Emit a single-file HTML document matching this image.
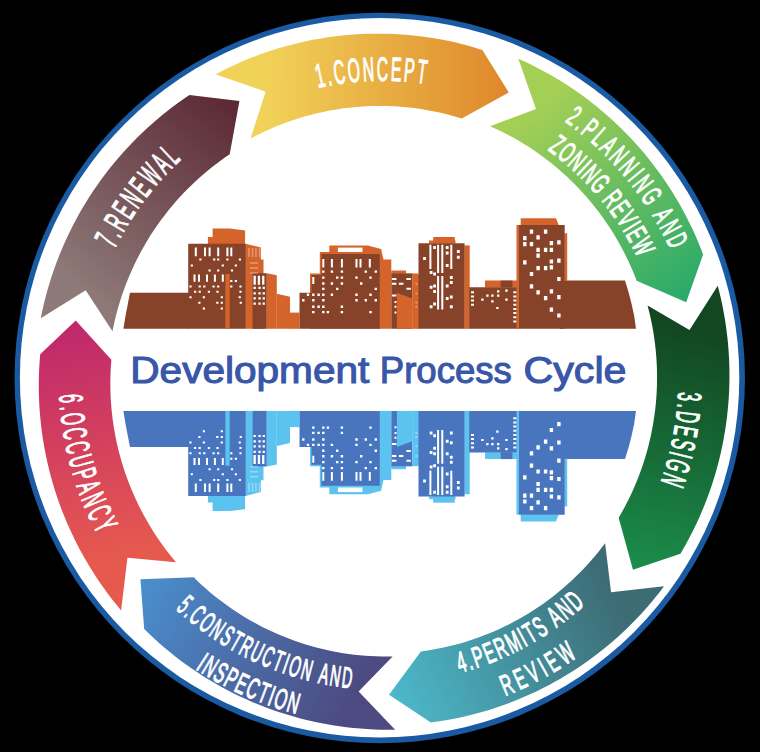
<!DOCTYPE html>
<html><head><meta charset="utf-8"><style>
html,body{margin:0;padding:0;background:#000;width:760px;height:752px;overflow:hidden}
svg{display:block}
.lab text{font-family:"Liberation Sans",sans-serif;fill:#fff;stroke:#fff;stroke-width:0.9px;vector-effect:non-scaling-stroke}
.title{font-family:"Liberation Sans",sans-serif;font-weight:normal;fill:#3857a8;stroke:#3857a8;stroke-width:1.1px}
</style></head><body>
<svg width="760" height="752" viewBox="0 0 760 752">
<defs>
<linearGradient id="g1" gradientUnits="userSpaceOnUse" x1="265.64" y1="92.92" x2="508.81" y2="93.90"><stop offset="0" stop-color="#f1d259"/><stop offset="1" stop-color="#df872b"/></linearGradient>
<linearGradient id="g2" gradientUnits="userSpaceOnUse" x1="535.95" y1="110.17" x2="686.17" y2="302.66"><stop offset="0" stop-color="#a4cf55"/><stop offset="1" stop-color="#27a96b"/></linearGradient>
<linearGradient id="g3" gradientUnits="userSpaceOnUse" x1="689.52" y1="330.31" x2="632.97" y2="568.87"><stop offset="0" stop-color="#124722"/><stop offset="1" stop-color="#1b8d4b"/></linearGradient>
<linearGradient id="g4" gradientUnits="userSpaceOnUse" x1="611.04" y1="591.38" x2="389.01" y2="693.44"><stop offset="0" stop-color="#3d6c75"/><stop offset="1" stop-color="#4cb9cb"/></linearGradient>
<linearGradient id="g5" gradientUnits="userSpaceOnUse" x1="358.63" y1="690.14" x2="140.44" y2="578.33"><stop offset="0" stop-color="#4c4a80"/><stop offset="1" stop-color="#4a8fce"/></linearGradient>
<linearGradient id="g6" gradientUnits="userSpaceOnUse" x1="127.46" y1="557.05" x2="75.75" y2="320.78"><stop offset="0" stop-color="#e65a4e"/><stop offset="1" stop-color="#bf276d"/></linearGradient>
<linearGradient id="g7" gradientUnits="userSpaceOnUse" x1="85.66" y1="290.73" x2="239.44" y2="102.36"><stop offset="0" stop-color="#8d7977"/><stop offset="1" stop-color="#5b2733"/></linearGradient>
</defs>
<rect width="760" height="752" fill="#000"/>
<circle cx="379.75" cy="378" r="365.2" fill="#1a5aa3"/>
<circle cx="379.6" cy="377.8" r="359.7" fill="#fff"/>
<g>
<polygon points="130.0,292.7 189.0,292.7 189.0,328.8 123.4,328.8 125.5,316.0 127.8,304.0" fill="#86432a"/>
<polygon points="207.9,244.0 207.9,237.1 212.6,237.1 212.6,228.6 230.0,228.6 245.1,230.5 245.1,244.0" fill="#d4642a"/>
<polygon points="245.5,243.7 260.9,247.6 260.9,259.5 263.5,259.5 263.5,328.8 245.5,328.8" fill="#d4642a"/>
<polygon points="188.2,243.7 245.8,243.7 245.8,328.8 188.2,328.8" fill="#86432a"/>
<polygon points="225.4,274.0 229.7,274.0 229.7,328.8 225.4,328.8" fill="#d4642a"/>
<polygon points="252.6,273.2 266.8,273.2 266.8,328.8 252.6,328.8" fill="#86432a"/>
<polygon points="266.8,273.2 276.8,275.3 276.8,328.8 266.8,328.8" fill="#d4642a"/>
<polygon points="276.8,293.7 290.0,296.8 290.0,328.8 276.8,328.8" fill="#d4642a"/>
<polygon points="290.0,312.6 299.5,312.6 299.5,328.8 290.0,328.8" fill="#d4642a"/>
<polygon points="329.3,254.0 329.3,245.4 367.8,245.4 381.1,249.0 381.1,254.0" fill="#d4642a"/>
<polygon points="337.9,247.6 362.5,247.6 362.5,253.0 337.9,253.0" fill="#fff"/>
<polygon points="379.5,254.0 381.1,249.0 383.5,259.6 391.3,259.6 391.3,328.8 379.5,328.8" fill="#d4642a"/>
<polygon points="310.0,328.8 310.0,273.4 319.8,273.4 319.8,252.1 379.8,252.1 379.8,328.8" fill="#d4642a"/>
<polygon points="299.5,328.8 299.5,292.8 311.5,292.8 311.5,275.0 321.5,275.0 321.5,254.0 379.8,254.0 379.8,328.8" fill="#86432a"/>
<polygon points="391.3,270.5 406.0,270.5 406.0,274.7 391.3,274.7" fill="#d4642a"/>
<polygon points="406.0,273.5 418.5,273.5 418.5,276.0 406.0,276.0" fill="#d4642a"/>
<polygon points="391.3,273.5 412.2,273.5 412.2,328.8 391.3,328.8" fill="#86432a"/>
<polygon points="412.2,275.0 419.2,275.0 419.2,328.8 412.2,328.8" fill="#d4642a"/>
<polygon points="396.9,328.8 396.9,292.8 412.2,298.4 412.2,328.8" fill="#d4642a"/>
<polygon points="433.2,237.0 454.8,237.0 454.8,243.5 433.2,243.5" fill="#d4642a"/>
<polygon points="429.0,240.5 455.5,240.5 455.5,243.5 429.0,243.5" fill="#d4642a"/>
<polygon points="464.4,245.4 469.7,245.4 469.7,328.8 464.4,328.8" fill="#d4642a"/>
<polygon points="418.5,243.3 464.6,243.3 464.6,328.8 418.5,328.8" fill="#86432a"/>
<polygon points="485.0,280.6 518.2,280.6 518.2,287.5 485.0,287.5" fill="#d4642a"/>
<polygon points="500.7,280.6 512.4,280.6 512.4,287.5 500.7,287.5" fill="#86432a"/>
<polygon points="469.2,287.3 518.2,287.3 518.2,328.8 469.2,328.8" fill="#86432a"/>
<polygon points="560.0,280.6 625.0,280.6 628.5,292.0 631.6,304.0 634.2,316.0 636.0,328.8 560.0,328.8" fill="#86432a"/>
<polygon points="520.7,225.5 520.7,218.3 556.0,218.3 558.9,225.5" fill="#d4642a"/>
<polygon points="516.5,225.0 519.2,225.0 519.2,328.8 516.5,328.8" fill="#d4642a"/>
<polygon points="564.3,233.3 567.2,233.3 567.2,281.0 564.3,281.0" fill="#d4642a"/>
<polygon points="519.0,225.0 564.7,225.0 564.7,328.8 519.0,328.8" fill="#86432a"/>
<path d="M194.8,247.6h2.0v8.6h-2.0zM204.0,247.6h2.0v8.6h-2.0zM208.6,247.6h2.0v8.6h-2.0zM217.2,247.6h2.0v8.6h-2.0zM226.4,247.6h2.0v8.6h-2.0zM230.3,247.6h2.0v8.6h-2.0zM199.3,258.6h2.2v2.0h-2.2zM213.1,258.6h2.2v2.0h-2.2zM217.1,258.6h2.2v2.0h-2.2zM226.3,258.6h2.2v2.0h-2.2zM238.8,258.6h2.2v2.0h-2.2zM190.7,264.5h2.2v2.0h-2.2zM221.7,264.5h2.2v2.0h-2.2zM234.8,264.5h2.2v2.0h-2.2zM208.5,269.5h2.2v2.0h-2.2zM217.1,269.5h2.2v2.0h-2.2zM230.9,269.5h2.2v2.0h-2.2zM193.5,274.6h2.0v7.2h-2.0zM198.0,274.6h2.0v7.2h-2.0zM206.0,274.6h2.0v7.2h-2.0zM213.9,274.6h2.0v7.2h-2.0zM221.8,274.6h2.0v7.2h-2.0zM230.2,280.0h2.2v2.0h-2.2zM234.8,280.0h2.2v2.0h-2.2zM189.4,285.4h2.2v2.0h-2.2zM198.6,285.4h2.2v2.0h-2.2zM203.2,285.4h2.2v2.0h-2.2zM212.5,285.4h2.2v2.0h-2.2zM217.1,285.4h2.2v2.0h-2.2zM230.2,285.4h2.2v2.0h-2.2zM239.4,285.4h2.2v2.0h-2.2zM194.0,290.7h2.2v2.0h-2.2zM198.6,290.7h2.2v2.0h-2.2zM207.8,290.7h2.2v2.0h-2.2zM216.4,290.7h2.2v2.0h-2.2zM239.4,290.7h2.2v2.0h-2.2zM189.4,296.2h2.2v2.0h-2.2zM202.8,296.2h2.2v2.0h-2.2zM220.7,296.2h2.2v2.0h-2.2zM238.6,296.2h2.2v2.0h-2.2zM198.3,301.8h2.2v2.0h-2.2zM216.2,301.8h2.2v2.0h-2.2zM220.7,301.8h2.2v2.0h-2.2zM239.7,301.8h2.2v2.0h-2.2zM202.8,307.4h2.2v2.0h-2.2zM220.7,307.4h2.2v2.0h-2.2zM253.5,275.8h2.3v8.9h-2.3zM257.8,275.8h2.3v8.9h-2.3zM262.1,275.8h2.3v8.9h-2.3zM253.5,286.8h2.3v2.2h-2.3zM258.4,286.8h2.3v2.2h-2.3zM262.6,286.8h2.3v2.2h-2.3zM253.5,292.3h2.3v2.2h-2.3zM258.4,292.3h2.3v2.2h-2.3zM262.6,292.3h2.3v2.2h-2.3zM253.5,297.3h2.3v2.2h-2.3zM258.4,297.3h2.3v2.2h-2.3zM262.6,297.3h2.3v2.2h-2.3zM253.5,302.6h2.3v2.2h-2.3zM258.4,302.6h2.3v2.2h-2.3zM262.6,302.6h2.3v2.2h-2.3zM322.3,259.0h2.0v8.6h-2.0zM330.9,259.0h2.0v8.6h-2.0zM340.9,259.0h2.0v8.6h-2.0zM355.5,259.0h2.0v8.6h-2.0zM359.5,259.0h2.0v8.6h-2.0zM368.8,259.0h2.0v8.6h-2.0zM322.1,270.4h2.4v2.4h-2.4zM330.7,270.4h2.4v2.4h-2.4zM340.7,270.4h2.4v2.4h-2.4zM364.6,270.4h2.4v2.4h-2.4zM374.6,270.4h2.4v2.4h-2.4zM322.1,276.4h2.4v2.4h-2.4zM336.0,276.4h2.4v2.4h-2.4zM340.7,276.4h2.4v2.4h-2.4zM355.3,276.4h2.4v2.4h-2.4zM369.3,276.4h2.4v2.4h-2.4zM322.1,282.3h2.4v2.4h-2.4zM330.7,282.3h2.4v2.4h-2.4zM340.7,282.3h2.4v2.4h-2.4zM360.0,282.3h2.4v2.4h-2.4zM322.1,287.7h2.4v2.4h-2.4zM336.0,287.7h2.4v2.4h-2.4zM374.6,287.7h2.4v2.4h-2.4zM306.8,293.6h2.4v2.4h-2.4zM312.1,293.6h2.4v2.4h-2.4zM317.4,293.6h2.4v2.4h-2.4zM322.1,293.6h2.4v2.4h-2.4zM330.7,293.6h2.4v2.4h-2.4zM355.3,293.6h2.4v2.4h-2.4zM369.3,293.6h2.4v2.4h-2.4zM302.1,299.0h2.4v2.4h-2.4zM312.1,299.0h2.4v2.4h-2.4zM322.1,299.0h2.4v2.4h-2.4zM355.3,299.0h2.4v2.4h-2.4zM364.6,299.0h2.4v2.4h-2.4zM374.6,299.0h2.4v2.4h-2.4zM312.1,305.6h2.4v2.4h-2.4zM317.4,305.6h2.4v2.4h-2.4zM322.1,305.6h2.4v2.4h-2.4zM340.7,305.6h2.4v2.4h-2.4zM312.1,310.9h2.4v2.4h-2.4zM322.1,310.9h2.4v2.4h-2.4zM326.7,310.9h2.4v2.4h-2.4zM340.7,310.9h2.4v2.4h-2.4zM369.3,310.9h2.4v2.4h-2.4zM312.3,277.0h2.0v7.0h-2.0zM391.9,277.9h4.5v2.0h-4.5zM406.4,277.9h4.5v2.0h-4.5zM391.9,282.8h4.5v2.0h-4.5zM398.9,282.8h4.5v2.0h-4.5zM406.4,287.7h4.5v2.0h-4.5zM391.9,294.6h4.5v2.0h-4.5zM394.5,300.9h2.0v2.0h-2.0zM394.5,305.8h2.0v2.0h-2.0zM394.5,311.4h2.0v2.0h-2.0zM429.4,244.7h2.0v24.4h-2.0zM437.1,244.7h2.0v28.3h-2.0zM441.3,244.7h2.0v28.3h-2.0zM450.3,244.7h2.0v24.3h-2.0zM437.1,276.0h2.0v33.6h-2.0zM441.3,276.0h2.0v33.6h-2.0zM423.1,257.1h2.8v3.0h-2.8zM456.9,250.1h2.8v3.0h-2.8zM456.9,255.7h2.8v3.0h-2.8zM433.2,246.0h2.8v3.0h-2.8zM445.8,246.0h2.8v3.0h-2.8zM445.8,251.5h2.8v3.0h-2.8zM445.8,264.1h2.8v3.0h-2.8zM429.7,271.1h2.8v3.0h-2.8zM433.2,272.5h2.8v3.0h-2.8zM449.9,276.0h2.8v3.0h-2.8zM449.9,280.9h2.8v3.0h-2.8zM429.7,285.8h2.8v3.0h-2.8zM433.2,284.4h2.8v3.0h-2.8zM445.8,284.4h2.8v3.0h-2.8zM433.2,290.0h2.8v3.0h-2.8zM445.8,296.9h2.8v3.0h-2.8zM449.9,295.5h2.8v3.0h-2.8zM433.2,302.5h2.8v3.0h-2.8zM429.7,305.3h2.8v3.0h-2.8zM449.9,305.3h2.8v3.0h-2.8zM471.0,291.3h3.0v2.0h-3.0zM471.0,295.4h3.0v2.0h-3.0zM471.0,299.6h3.0v2.0h-3.0zM471.0,303.7h3.0v2.0h-3.0zM513.3,291.3h3.0v2.0h-3.0zM513.3,295.4h3.0v2.0h-3.0zM513.3,299.6h3.0v2.0h-3.0zM513.3,303.8h3.0v2.0h-3.0zM513.3,307.9h3.0v2.0h-3.0zM513.3,312.1h3.0v2.0h-3.0zM513.3,316.2h3.0v2.0h-3.0zM513.3,320.4h3.0v2.0h-3.0zM497.0,290.3h2.4v2.2h-2.4zM497.0,294.5h2.4v2.2h-2.4zM505.3,289.5h2.4v2.2h-2.4zM505.3,298.6h2.4v2.2h-2.4zM486.2,294.5h2.4v2.2h-2.4zM491.2,294.5h2.4v2.2h-2.4zM481.2,298.6h2.4v2.2h-2.4zM491.2,300.3h2.4v2.2h-2.4zM496.2,306.9h2.4v2.2h-2.4zM529.8,229.5h3.4v4.2h-3.4zM543.9,229.5h3.4v4.2h-3.4zM523.1,236.1h3.4v4.2h-3.4zM536.4,235.3h3.4v4.2h-3.4zM523.1,242.0h3.4v4.2h-3.4zM529.8,242.0h3.4v4.2h-3.4zM549.7,241.1h3.4v4.2h-3.4zM557.2,240.3h3.4v4.2h-3.4zM536.4,247.8h3.4v4.2h-3.4zM543.9,247.8h3.4v4.2h-3.4zM549.7,247.8h3.4v4.2h-3.4zM536.4,253.6h3.4v4.2h-3.4zM523.1,260.2h3.4v4.2h-3.4zM549.7,259.4h3.4v4.2h-3.4zM557.2,258.6h3.4v4.2h-3.4zM536.4,266.1h3.4v4.2h-3.4zM543.9,266.1h3.4v4.2h-3.4zM549.7,265.2h3.4v4.2h-3.4zM529.8,271.9h3.4v4.2h-3.4zM557.2,276.9h3.4v4.2h-3.4zM529.8,284.3h3.4v4.2h-3.4zM536.4,290.2h3.4v4.2h-3.4zM549.7,289.3h3.4v4.2h-3.4zM543.9,296.0h3.4v4.2h-3.4zM557.2,295.1h3.4v4.2h-3.4zM549.7,307.6h3.4v4.2h-3.4zM557.2,313.4h3.4v4.2h-3.4z" fill="#fff"/>
<path d="M248.2,248.0h1.5v9.0h-1.5zM251.8,248.0h1.5v9.0h-1.5zM255.2,248.0h1.5v9.0h-1.5zM258.8,248.0h1.5v9.0h-1.5zM250.0,262.2h8.0v1.6h-8.0zM250.0,267.2h8.0v1.6h-8.0zM250.0,272.2h8.0v1.6h-8.0zM415.4,282.8h2.0v2.0h-2.0zM415.4,292.5h2.0v2.0h-2.0zM415.4,301.6h2.0v2.0h-2.0zM415.4,305.8h2.0v2.0h-2.0z" fill="#fff" opacity="0.35"/>
</g>
<g transform="translate(0,739.7) scale(1,-1)">
<polygon points="130.0,292.7 189.0,292.7 189.0,328.8 123.4,328.8 125.5,316.0 127.8,304.0" fill="#4875be"/>
<polygon points="207.9,244.0 207.9,237.1 212.6,237.1 212.6,228.6 230.0,228.6 245.1,230.5 245.1,244.0" fill="#5cc3f0"/>
<polygon points="245.5,243.7 260.9,247.6 260.9,259.5 263.5,259.5 263.5,328.8 245.5,328.8" fill="#5cc3f0"/>
<polygon points="188.2,243.7 245.8,243.7 245.8,328.8 188.2,328.8" fill="#4875be"/>
<polygon points="225.4,274.0 229.7,274.0 229.7,328.8 225.4,328.8" fill="#5cc3f0"/>
<polygon points="252.6,273.2 266.8,273.2 266.8,328.8 252.6,328.8" fill="#4875be"/>
<polygon points="266.8,273.2 276.8,275.3 276.8,328.8 266.8,328.8" fill="#5cc3f0"/>
<polygon points="276.8,293.7 290.0,296.8 290.0,328.8 276.8,328.8" fill="#5cc3f0"/>
<polygon points="290.0,312.6 299.5,312.6 299.5,328.8 290.0,328.8" fill="#5cc3f0"/>
<polygon points="329.3,254.0 329.3,245.4 367.8,245.4 381.1,249.0 381.1,254.0" fill="#5cc3f0"/>
<polygon points="337.9,247.6 362.5,247.6 362.5,253.0 337.9,253.0" fill="#fff"/>
<polygon points="379.5,254.0 381.1,249.0 383.5,259.6 391.3,259.6 391.3,328.8 379.5,328.8" fill="#5cc3f0"/>
<polygon points="310.0,328.8 310.0,273.4 319.8,273.4 319.8,252.1 379.8,252.1 379.8,328.8" fill="#5cc3f0"/>
<polygon points="299.5,328.8 299.5,292.8 311.5,292.8 311.5,275.0 321.5,275.0 321.5,254.0 379.8,254.0 379.8,328.8" fill="#4875be"/>
<polygon points="391.3,270.5 406.0,270.5 406.0,274.7 391.3,274.7" fill="#5cc3f0"/>
<polygon points="406.0,273.5 418.5,273.5 418.5,276.0 406.0,276.0" fill="#5cc3f0"/>
<polygon points="391.3,273.5 412.2,273.5 412.2,328.8 391.3,328.8" fill="#4875be"/>
<polygon points="412.2,275.0 419.2,275.0 419.2,328.8 412.2,328.8" fill="#5cc3f0"/>
<polygon points="396.9,328.8 396.9,292.8 412.2,298.4 412.2,328.8" fill="#5cc3f0"/>
<polygon points="433.2,237.0 454.8,237.0 454.8,243.5 433.2,243.5" fill="#5cc3f0"/>
<polygon points="429.0,240.5 455.5,240.5 455.5,243.5 429.0,243.5" fill="#5cc3f0"/>
<polygon points="464.4,245.4 469.7,245.4 469.7,328.8 464.4,328.8" fill="#5cc3f0"/>
<polygon points="418.5,243.3 464.6,243.3 464.6,328.8 418.5,328.8" fill="#4875be"/>
<polygon points="485.0,280.6 518.2,280.6 518.2,287.5 485.0,287.5" fill="#5cc3f0"/>
<polygon points="500.7,280.6 512.4,280.6 512.4,287.5 500.7,287.5" fill="#4875be"/>
<polygon points="469.2,287.3 518.2,287.3 518.2,328.8 469.2,328.8" fill="#4875be"/>
<polygon points="560.0,280.6 625.0,280.6 628.5,292.0 631.6,304.0 634.2,316.0 636.0,328.8 560.0,328.8" fill="#4875be"/>
<polygon points="520.7,225.5 520.7,218.3 556.0,218.3 558.9,225.5" fill="#5cc3f0"/>
<polygon points="516.5,225.0 519.2,225.0 519.2,328.8 516.5,328.8" fill="#5cc3f0"/>
<polygon points="564.3,233.3 567.2,233.3 567.2,281.0 564.3,281.0" fill="#5cc3f0"/>
<polygon points="519.0,225.0 564.7,225.0 564.7,328.8 519.0,328.8" fill="#4875be"/>
<path d="M194.8,247.6h2.0v8.6h-2.0zM204.0,247.6h2.0v8.6h-2.0zM208.6,247.6h2.0v8.6h-2.0zM217.2,247.6h2.0v8.6h-2.0zM226.4,247.6h2.0v8.6h-2.0zM230.3,247.6h2.0v8.6h-2.0zM199.3,258.6h2.2v2.0h-2.2zM213.1,258.6h2.2v2.0h-2.2zM217.1,258.6h2.2v2.0h-2.2zM226.3,258.6h2.2v2.0h-2.2zM238.8,258.6h2.2v2.0h-2.2zM190.7,264.5h2.2v2.0h-2.2zM221.7,264.5h2.2v2.0h-2.2zM234.8,264.5h2.2v2.0h-2.2zM208.5,269.5h2.2v2.0h-2.2zM217.1,269.5h2.2v2.0h-2.2zM230.9,269.5h2.2v2.0h-2.2zM193.5,274.6h2.0v7.2h-2.0zM198.0,274.6h2.0v7.2h-2.0zM206.0,274.6h2.0v7.2h-2.0zM213.9,274.6h2.0v7.2h-2.0zM221.8,274.6h2.0v7.2h-2.0zM230.2,280.0h2.2v2.0h-2.2zM234.8,280.0h2.2v2.0h-2.2zM189.4,285.4h2.2v2.0h-2.2zM198.6,285.4h2.2v2.0h-2.2zM203.2,285.4h2.2v2.0h-2.2zM212.5,285.4h2.2v2.0h-2.2zM217.1,285.4h2.2v2.0h-2.2zM230.2,285.4h2.2v2.0h-2.2zM239.4,285.4h2.2v2.0h-2.2zM194.0,290.7h2.2v2.0h-2.2zM198.6,290.7h2.2v2.0h-2.2zM207.8,290.7h2.2v2.0h-2.2zM216.4,290.7h2.2v2.0h-2.2zM239.4,290.7h2.2v2.0h-2.2zM189.4,296.2h2.2v2.0h-2.2zM202.8,296.2h2.2v2.0h-2.2zM220.7,296.2h2.2v2.0h-2.2zM238.6,296.2h2.2v2.0h-2.2zM198.3,301.8h2.2v2.0h-2.2zM216.2,301.8h2.2v2.0h-2.2zM220.7,301.8h2.2v2.0h-2.2zM239.7,301.8h2.2v2.0h-2.2zM202.8,307.4h2.2v2.0h-2.2zM220.7,307.4h2.2v2.0h-2.2zM253.5,275.8h2.3v8.9h-2.3zM257.8,275.8h2.3v8.9h-2.3zM262.1,275.8h2.3v8.9h-2.3zM253.5,286.8h2.3v2.2h-2.3zM258.4,286.8h2.3v2.2h-2.3zM262.6,286.8h2.3v2.2h-2.3zM253.5,292.3h2.3v2.2h-2.3zM258.4,292.3h2.3v2.2h-2.3zM262.6,292.3h2.3v2.2h-2.3zM253.5,297.3h2.3v2.2h-2.3zM258.4,297.3h2.3v2.2h-2.3zM262.6,297.3h2.3v2.2h-2.3zM253.5,302.6h2.3v2.2h-2.3zM258.4,302.6h2.3v2.2h-2.3zM262.6,302.6h2.3v2.2h-2.3zM322.3,259.0h2.0v8.6h-2.0zM330.9,259.0h2.0v8.6h-2.0zM340.9,259.0h2.0v8.6h-2.0zM355.5,259.0h2.0v8.6h-2.0zM359.5,259.0h2.0v8.6h-2.0zM368.8,259.0h2.0v8.6h-2.0zM322.1,270.4h2.4v2.4h-2.4zM330.7,270.4h2.4v2.4h-2.4zM340.7,270.4h2.4v2.4h-2.4zM364.6,270.4h2.4v2.4h-2.4zM374.6,270.4h2.4v2.4h-2.4zM322.1,276.4h2.4v2.4h-2.4zM336.0,276.4h2.4v2.4h-2.4zM340.7,276.4h2.4v2.4h-2.4zM355.3,276.4h2.4v2.4h-2.4zM369.3,276.4h2.4v2.4h-2.4zM322.1,282.3h2.4v2.4h-2.4zM330.7,282.3h2.4v2.4h-2.4zM340.7,282.3h2.4v2.4h-2.4zM360.0,282.3h2.4v2.4h-2.4zM322.1,287.7h2.4v2.4h-2.4zM336.0,287.7h2.4v2.4h-2.4zM374.6,287.7h2.4v2.4h-2.4zM306.8,293.6h2.4v2.4h-2.4zM312.1,293.6h2.4v2.4h-2.4zM317.4,293.6h2.4v2.4h-2.4zM322.1,293.6h2.4v2.4h-2.4zM330.7,293.6h2.4v2.4h-2.4zM355.3,293.6h2.4v2.4h-2.4zM369.3,293.6h2.4v2.4h-2.4zM302.1,299.0h2.4v2.4h-2.4zM312.1,299.0h2.4v2.4h-2.4zM322.1,299.0h2.4v2.4h-2.4zM355.3,299.0h2.4v2.4h-2.4zM364.6,299.0h2.4v2.4h-2.4zM374.6,299.0h2.4v2.4h-2.4zM312.1,305.6h2.4v2.4h-2.4zM317.4,305.6h2.4v2.4h-2.4zM322.1,305.6h2.4v2.4h-2.4zM340.7,305.6h2.4v2.4h-2.4zM312.1,310.9h2.4v2.4h-2.4zM322.1,310.9h2.4v2.4h-2.4zM326.7,310.9h2.4v2.4h-2.4zM340.7,310.9h2.4v2.4h-2.4zM369.3,310.9h2.4v2.4h-2.4zM312.3,277.0h2.0v7.0h-2.0zM391.9,277.9h4.5v2.0h-4.5zM406.4,277.9h4.5v2.0h-4.5zM391.9,282.8h4.5v2.0h-4.5zM398.9,282.8h4.5v2.0h-4.5zM406.4,287.7h4.5v2.0h-4.5zM391.9,294.6h4.5v2.0h-4.5zM394.5,300.9h2.0v2.0h-2.0zM394.5,305.8h2.0v2.0h-2.0zM394.5,311.4h2.0v2.0h-2.0zM429.4,244.7h2.0v24.4h-2.0zM437.1,244.7h2.0v28.3h-2.0zM441.3,244.7h2.0v28.3h-2.0zM450.3,244.7h2.0v24.3h-2.0zM437.1,276.0h2.0v33.6h-2.0zM441.3,276.0h2.0v33.6h-2.0zM423.1,257.1h2.8v3.0h-2.8zM456.9,250.1h2.8v3.0h-2.8zM456.9,255.7h2.8v3.0h-2.8zM433.2,246.0h2.8v3.0h-2.8zM445.8,246.0h2.8v3.0h-2.8zM445.8,251.5h2.8v3.0h-2.8zM445.8,264.1h2.8v3.0h-2.8zM429.7,271.1h2.8v3.0h-2.8zM433.2,272.5h2.8v3.0h-2.8zM449.9,276.0h2.8v3.0h-2.8zM449.9,280.9h2.8v3.0h-2.8zM429.7,285.8h2.8v3.0h-2.8zM433.2,284.4h2.8v3.0h-2.8zM445.8,284.4h2.8v3.0h-2.8zM433.2,290.0h2.8v3.0h-2.8zM445.8,296.9h2.8v3.0h-2.8zM449.9,295.5h2.8v3.0h-2.8zM433.2,302.5h2.8v3.0h-2.8zM429.7,305.3h2.8v3.0h-2.8zM449.9,305.3h2.8v3.0h-2.8zM471.0,291.3h3.0v2.0h-3.0zM471.0,295.4h3.0v2.0h-3.0zM471.0,299.6h3.0v2.0h-3.0zM471.0,303.7h3.0v2.0h-3.0zM513.3,291.3h3.0v2.0h-3.0zM513.3,295.4h3.0v2.0h-3.0zM513.3,299.6h3.0v2.0h-3.0zM513.3,303.8h3.0v2.0h-3.0zM513.3,307.9h3.0v2.0h-3.0zM513.3,312.1h3.0v2.0h-3.0zM513.3,316.2h3.0v2.0h-3.0zM513.3,320.4h3.0v2.0h-3.0zM497.0,290.3h2.4v2.2h-2.4zM497.0,294.5h2.4v2.2h-2.4zM505.3,289.5h2.4v2.2h-2.4zM505.3,298.6h2.4v2.2h-2.4zM486.2,294.5h2.4v2.2h-2.4zM491.2,294.5h2.4v2.2h-2.4zM481.2,298.6h2.4v2.2h-2.4zM491.2,300.3h2.4v2.2h-2.4zM496.2,306.9h2.4v2.2h-2.4zM529.8,229.5h3.4v4.2h-3.4zM543.9,229.5h3.4v4.2h-3.4zM523.1,236.1h3.4v4.2h-3.4zM536.4,235.3h3.4v4.2h-3.4zM523.1,242.0h3.4v4.2h-3.4zM529.8,242.0h3.4v4.2h-3.4zM549.7,241.1h3.4v4.2h-3.4zM557.2,240.3h3.4v4.2h-3.4zM536.4,247.8h3.4v4.2h-3.4zM543.9,247.8h3.4v4.2h-3.4zM549.7,247.8h3.4v4.2h-3.4zM536.4,253.6h3.4v4.2h-3.4zM523.1,260.2h3.4v4.2h-3.4zM549.7,259.4h3.4v4.2h-3.4zM557.2,258.6h3.4v4.2h-3.4zM536.4,266.1h3.4v4.2h-3.4zM543.9,266.1h3.4v4.2h-3.4zM549.7,265.2h3.4v4.2h-3.4zM529.8,271.9h3.4v4.2h-3.4zM557.2,276.9h3.4v4.2h-3.4zM529.8,284.3h3.4v4.2h-3.4zM536.4,290.2h3.4v4.2h-3.4zM549.7,289.3h3.4v4.2h-3.4zM543.9,296.0h3.4v4.2h-3.4zM557.2,295.1h3.4v4.2h-3.4zM549.7,307.6h3.4v4.2h-3.4zM557.2,313.4h3.4v4.2h-3.4z" fill="#fff"/>
<path d="M248.2,248.0h1.5v9.0h-1.5zM251.8,248.0h1.5v9.0h-1.5zM255.2,248.0h1.5v9.0h-1.5zM258.8,248.0h1.5v9.0h-1.5zM250.0,262.2h8.0v1.6h-8.0zM250.0,267.2h8.0v1.6h-8.0zM250.0,272.2h8.0v1.6h-8.0zM415.4,282.8h2.0v2.0h-2.0zM415.4,292.5h2.0v2.0h-2.0zM415.4,301.6h2.0v2.0h-2.0zM415.4,305.8h2.0v2.0h-2.0z" fill="#fff" opacity="0.35"/>
</g>
<text class="title" x="130.3" y="383.3" font-size="37" textLength="239" lengthAdjust="spacingAndGlyphs">Development</text>
<text class="title" x="379.8" y="383.3" font-size="37" textLength="132" lengthAdjust="spacingAndGlyphs">Process</text>
<text class="title" x="523.5" y="383.3" font-size="37" textLength="103" lengthAdjust="spacingAndGlyphs">Cycle</text>
<g transform="translate(383,380.5) scale(1,1.0045) translate(-383,-380.5)">
<path d="M215.45,75.72 L221.59,72.54 L227.79,69.47 L234.05,66.54 L240.37,63.73 L246.74,61.05 L253.16,58.49 L259.63,56.07 L266.14,53.77 L272.70,51.60 L279.29,49.57 L285.93,47.67 L292.59,45.90 L299.29,44.26 L306.02,42.76 L312.77,41.40 L319.55,40.16 L326.35,39.07 L333.17,38.11 L340.01,37.28 L346.85,36.59 L353.71,36.04 L360.58,35.63 L367.45,35.35 L374.32,35.21 L381.19,35.20 L388.06,35.34 L394.92,35.61 L401.78,36.01 L408.62,36.55 L415.45,37.23 L422.26,38.04 L429.05,38.99 L435.82,40.07 L442.57,41.29 L449.29,42.64 L455.97,44.12 L462.63,45.74 L469.25,47.49 L475.83,49.37 L482.37,51.37 L508.81,93.90 L461.73,119.73 L456.55,118.15 L451.33,116.68 L446.08,115.31 L440.80,114.05 L435.50,112.89 L430.18,111.84 L424.83,110.89 L419.47,110.05 L414.09,109.31 L408.69,108.69 L403.29,108.17 L397.87,107.75 L392.44,107.45 L387.01,107.25 L381.57,107.17 L376.13,107.19 L370.69,107.31 L365.25,107.55 L359.82,107.90 L354.40,108.35 L348.98,108.91 L343.57,109.58 L338.18,110.36 L332.80,111.24 L327.44,112.23 L322.10,113.33 L316.79,114.53 L311.49,115.84 L306.22,117.26 L300.98,118.78 L295.77,120.40 L290.59,122.13 L285.45,123.96 L280.34,125.89 L275.27,127.93 L270.24,130.06 L265.25,132.30 L260.31,134.64 L255.41,137.07 L250.57,139.60 L265.64,92.92 Z" fill="url(#g1)"/>
<path d="M518.34,60.11 L524.66,62.97 L530.92,65.94 L537.12,69.04 L543.25,72.27 L549.32,75.61 L555.31,79.08 L561.24,82.66 L567.09,86.36 L572.86,90.17 L578.56,94.09 L584.17,98.13 L589.70,102.28 L595.15,106.54 L600.50,110.90 L605.77,115.36 L610.95,119.93 L616.03,124.61 L621.02,129.38 L625.91,134.24 L630.70,139.20 L635.39,144.26 L639.97,149.41 L644.45,154.64 L648.83,159.96 L653.09,165.37 L657.25,170.86 L661.30,176.43 L665.23,182.07 L669.04,187.80 L672.75,193.59 L676.33,199.46 L679.80,205.40 L683.14,211.40 L686.36,217.46 L689.47,223.59 L692.44,229.77 L695.30,236.02 L698.02,242.31 L700.62,248.66 L703.10,255.06 L686.17,302.66 L636.62,281.11 L634.65,276.05 L632.57,271.02 L630.39,266.04 L628.12,261.11 L625.75,256.21 L623.27,251.37 L620.71,246.57 L618.04,241.83 L615.28,237.14 L612.43,232.50 L609.49,227.92 L606.45,223.40 L603.32,218.94 L600.11,214.54 L596.80,210.20 L593.41,205.93 L589.94,201.73 L586.38,197.60 L582.74,193.54 L579.02,189.55 L575.21,185.63 L571.33,181.80 L567.38,178.03 L563.34,174.35 L559.24,170.75 L555.06,167.23 L550.81,163.79 L546.49,160.44 L542.11,157.17 L537.66,153.99 L533.15,150.90 L528.57,147.90 L523.94,144.99 L519.24,142.17 L514.50,139.45 L509.69,136.82 L504.84,134.28 L499.93,131.85 L494.97,129.51 L489.97,127.27 L535.95,110.17 Z" fill="url(#g2)"/>
<path d="M717.74,286.09 L719.47,292.83 L721.06,299.61 L722.51,306.41 L723.82,313.23 L725.00,320.08 L726.05,326.95 L726.95,333.84 L727.71,340.74 L728.34,347.65 L728.83,354.57 L729.18,361.50 L729.39,368.43 L729.46,375.37 L729.40,382.30 L729.19,389.23 L728.85,396.14 L728.36,403.05 L727.74,409.95 L726.99,416.83 L726.09,423.69 L725.06,430.53 L723.89,437.35 L722.59,444.14 L721.15,450.90 L719.58,457.62 L717.87,464.32 L716.03,470.97 L714.06,477.59 L711.95,484.16 L709.72,490.69 L707.35,497.17 L704.86,503.60 L702.24,509.98 L699.50,516.30 L696.63,522.56 L693.63,528.76 L690.51,534.90 L687.27,540.98 L683.92,546.98 L680.44,552.92 L632.97,568.87 L618.67,517.11 L621.41,512.40 L624.05,507.63 L626.60,502.81 L629.06,497.94 L631.42,493.02 L633.67,488.06 L635.83,483.04 L637.89,477.99 L639.85,472.89 L641.71,467.75 L643.46,462.58 L645.11,457.37 L646.66,452.13 L648.10,446.85 L649.43,441.55 L650.66,436.22 L651.78,430.87 L652.80,425.49 L653.71,420.09 L654.51,414.68 L655.20,409.25 L655.78,403.80 L656.26,398.34 L656.62,392.88 L656.88,387.40 L657.02,381.92 L657.06,376.44 L656.98,370.96 L656.80,365.47 L656.51,359.99 L656.10,354.52 L655.59,349.06 L654.97,343.60 L654.24,338.16 L653.40,332.73 L652.45,327.32 L651.40,321.93 L650.23,316.55 L648.96,311.20 L647.58,305.88 L689.52,330.31 Z" fill="url(#g3)"/>
<path d="M664.02,585.42 L659.78,590.95 L655.43,596.39 L650.98,601.74 L646.42,606.99 L641.75,612.16 L636.99,617.22 L632.12,622.19 L627.16,627.06 L622.11,631.83 L616.96,636.49 L611.72,641.05 L606.39,645.50 L600.98,649.85 L595.48,654.08 L589.90,658.20 L584.24,662.21 L578.50,666.10 L572.68,669.87 L566.80,673.53 L560.84,677.06 L554.82,680.48 L548.73,683.77 L542.57,686.94 L536.36,689.99 L530.09,692.90 L523.76,695.70 L517.38,698.36 L510.95,700.89 L504.48,703.30 L497.95,705.57 L491.39,707.71 L484.79,709.72 L478.14,711.60 L471.47,713.34 L464.76,714.95 L458.03,716.42 L451.26,717.76 L444.48,718.96 L437.67,720.03 L430.85,720.95 L389.01,693.44 L420.91,650.25 L426.32,649.50 L431.70,648.64 L437.08,647.67 L442.43,646.59 L447.76,645.41 L453.07,644.12 L458.35,642.73 L463.61,641.22 L468.83,639.62 L474.03,637.90 L479.18,636.09 L484.31,634.17 L489.39,632.15 L494.43,630.02 L499.44,627.80 L504.39,625.47 L509.30,623.05 L514.16,620.52 L518.98,617.90 L523.74,615.19 L528.44,612.37 L533.09,609.47 L537.68,606.47 L542.21,603.38 L546.68,600.19 L551.08,596.92 L555.42,593.56 L559.70,590.11 L563.90,586.58 L568.03,582.96 L572.09,579.26 L576.08,575.48 L579.99,571.61 L583.82,567.67 L587.58,563.66 L591.25,559.56 L594.85,555.40 L598.35,551.16 L601.78,546.85 L605.12,542.47 L611.04,591.38 Z" fill="url(#g4)"/>
<path d="M395.14,728.09 L388.16,728.16 L381.18,728.10 L374.21,727.89 L367.24,727.54 L360.29,727.06 L353.34,726.43 L346.42,725.67 L339.51,724.76 L332.62,723.72 L325.76,722.54 L318.93,721.23 L312.12,719.78 L305.35,718.19 L298.61,716.46 L291.91,714.61 L285.25,712.61 L278.64,710.49 L272.07,708.23 L265.55,705.85 L259.08,703.33 L252.66,700.69 L246.30,697.92 L240.00,695.02 L233.76,691.99 L227.58,688.85 L221.47,685.58 L215.43,682.19 L209.46,678.67 L203.56,675.05 L197.74,671.30 L192.00,667.44 L186.33,663.47 L180.75,659.38 L175.26,655.19 L169.85,650.88 L164.53,646.47 L159.30,641.96 L154.16,637.34 L149.12,632.63 L144.18,627.81 L140.44,578.33 L193.78,576.45 L197.70,580.25 L201.71,583.98 L205.79,587.62 L209.94,591.19 L214.17,594.67 L218.46,598.06 L222.82,601.37 L227.25,604.59 L231.75,607.72 L236.30,610.77 L240.92,613.72 L245.60,616.58 L250.34,619.34 L255.13,622.01 L259.97,624.58 L264.87,627.06 L269.81,629.44 L274.81,631.72 L279.85,633.90 L284.93,635.97 L290.06,637.95 L295.22,639.82 L300.43,641.59 L305.67,643.26 L310.94,644.82 L316.24,646.27 L321.58,647.62 L326.94,648.86 L332.32,649.99 L337.73,651.01 L343.16,651.93 L348.61,652.74 L354.07,653.43 L359.55,654.02 L365.04,654.50 L370.54,654.87 L376.05,655.12 L381.56,655.27 L387.08,655.31 L392.59,655.23 L358.63,690.14 Z" fill="url(#g5)"/>
<path d="M121.11,609.36 L116.70,604.06 L112.39,598.66 L108.19,593.19 L104.10,587.63 L100.13,581.99 L96.26,576.28 L92.52,570.50 L88.89,564.64 L85.38,558.71 L81.98,552.72 L78.71,546.66 L75.56,540.54 L72.54,534.36 L69.63,528.13 L66.85,521.84 L64.20,515.49 L61.68,509.10 L59.28,502.66 L57.02,496.18 L54.88,489.65 L52.87,483.09 L51.00,476.48 L49.25,469.85 L47.64,463.18 L46.16,456.49 L44.82,449.76 L43.61,443.02 L42.53,436.25 L41.59,429.47 L40.79,422.67 L40.12,415.86 L39.58,409.04 L39.18,402.21 L38.92,395.37 L38.79,388.54 L38.80,381.70 L38.95,374.87 L39.23,368.04 L39.64,361.23 L40.19,354.42 L75.75,320.78 L111.38,359.84 L110.97,365.23 L110.65,370.63 L110.45,376.04 L110.35,381.45 L110.36,386.87 L110.48,392.28 L110.70,397.69 L111.04,403.10 L111.48,408.50 L112.02,413.89 L112.68,419.27 L113.44,424.64 L114.31,430.00 L115.28,435.33 L116.36,440.65 L117.55,445.95 L118.84,451.22 L120.24,456.47 L121.74,461.69 L123.34,466.88 L125.05,472.04 L126.86,477.16 L128.77,482.25 L130.78,487.30 L132.89,492.31 L135.11,497.28 L137.42,502.21 L139.83,507.09 L142.33,511.92 L144.93,516.70 L147.63,521.43 L150.42,526.11 L153.31,530.74 L156.28,535.30 L159.35,539.81 L162.51,544.25 L165.75,548.64 L169.08,552.96 L172.50,557.21 L176.00,561.39 L127.46,557.05 Z" fill="url(#g6)"/>
<path d="M40.75,318.61 L42.14,311.85 L43.67,305.12 L45.33,298.42 L47.13,291.76 L49.05,285.14 L51.10,278.55 L53.29,272.02 L55.60,265.53 L58.04,259.08 L60.61,252.69 L63.30,246.36 L66.12,240.08 L69.06,233.86 L72.12,227.70 L75.31,221.60 L78.61,215.57 L82.03,209.61 L85.57,203.72 L89.22,197.91 L92.99,192.16 L96.87,186.50 L100.86,180.92 L104.95,175.41 L109.16,169.99 L113.47,164.66 L117.88,159.42 L122.40,154.26 L127.02,149.20 L131.73,144.24 L136.54,139.36 L141.45,134.59 L146.45,129.92 L151.54,125.34 L156.71,120.87 L161.98,116.51 L167.32,112.25 L172.75,108.10 L178.26,104.06 L183.85,100.13 L189.51,96.32 L239.44,102.36 L229.69,155.34 L225.22,158.37 L220.80,161.50 L216.45,164.71 L212.16,168.01 L207.93,171.40 L203.77,174.87 L199.69,178.42 L195.67,182.05 L191.72,185.77 L187.85,189.56 L184.05,193.43 L180.33,197.37 L176.69,201.39 L173.12,205.48 L169.64,209.64 L166.24,213.88 L162.93,218.17 L159.70,222.54 L156.55,226.97 L153.50,231.46 L150.53,236.01 L147.65,240.62 L144.87,245.29 L142.18,250.02 L139.58,254.79 L137.08,259.62 L134.67,264.50 L132.36,269.43 L130.14,274.40 L128.03,279.42 L126.01,284.48 L124.10,289.58 L122.29,294.72 L120.58,299.89 L118.97,305.10 L117.46,310.34 L116.06,315.61 L114.76,320.91 L113.57,326.24 L112.49,331.58 L85.66,290.73 Z" fill="url(#g7)"/>
<g class="lab">
<text transform="translate(322.33,88.23) rotate(348.27) scale(0.47,1)" font-size="33.43" text-anchor="middle">1</text>
<text transform="translate(330.99,86.57) rotate(349.96) scale(0.47,1)" font-size="33.43" text-anchor="middle">.</text>
<text transform="translate(340.97,84.97) rotate(351.91) scale(0.47,1)" font-size="33.43" text-anchor="middle">C</text>
<text transform="translate(354.92,83.32) rotate(354.60) scale(0.47,1)" font-size="33.43" text-anchor="middle">O</text>
<text transform="translate(368.93,82.33) rotate(357.30) scale(0.47,1)" font-size="33.43" text-anchor="middle">N</text>
<text transform="translate(382.53,82.00) rotate(359.91) scale(0.47,1)" font-size="33.43" text-anchor="middle">C</text>
<text transform="translate(395.70,82.27) rotate(362.44) scale(0.47,1)" font-size="33.43" text-anchor="middle">E</text>
<text transform="translate(408.41,83.08) rotate(364.88) scale(0.47,1)" font-size="33.43" text-anchor="middle">P</text>
<text transform="translate(420.64,84.38) rotate(367.24) scale(0.47,1)" font-size="33.43" text-anchor="middle">T</text>
<text transform="translate(678.09,396.11) rotate(93.03) scale(0.47,1)" font-size="33.43" text-anchor="middle">3</text>
<text transform="translate(677.46,405.30) rotate(94.82) scale(0.47,1)" font-size="33.43" text-anchor="middle">.</text>
<text transform="translate(676.39,415.77) rotate(96.86) scale(0.47,1)" font-size="33.43" text-anchor="middle">D</text>
<text transform="translate(674.46,429.21) rotate(99.49) scale(0.47,1)" font-size="33.43" text-anchor="middle">E</text>
<text transform="translate(672.00,442.12) rotate(102.04) scale(0.47,1)" font-size="33.43" text-anchor="middle">S</text>
<text transform="translate(669.73,451.95) rotate(103.99) scale(0.47,1)" font-size="33.43" text-anchor="middle">I</text>
<text transform="translate(666.89,462.53) rotate(106.12) scale(0.47,1)" font-size="33.43" text-anchor="middle">G</text>
<text transform="translate(662.54,476.31) rotate(108.92) scale(0.47,1)" font-size="33.43" text-anchor="middle">N</text>
<text transform="translate(116.54,245.96) rotate(296.79) scale(0.47,1)" font-size="33.43" text-anchor="middle">7</text>
<text transform="translate(120.81,237.81) rotate(298.56) scale(0.47,1)" font-size="33.43" text-anchor="middle">.</text>
<text transform="translate(126.00,228.68) rotate(300.57) scale(0.47,1)" font-size="33.43" text-anchor="middle">R</text>
<text transform="translate(133.16,217.16) rotate(303.18) scale(0.47,1)" font-size="33.43" text-anchor="middle">E</text>
<text transform="translate(140.83,205.98) rotate(305.78) scale(0.47,1)" font-size="33.43" text-anchor="middle">N</text>
<text transform="translate(149.01,195.16) rotate(308.38) scale(0.47,1)" font-size="33.43" text-anchor="middle">E</text>
<text transform="translate(158.82,183.41) rotate(311.32) scale(0.47,1)" font-size="33.43" text-anchor="middle">W</text>
<text transform="translate(169.21,172.18) rotate(314.26) scale(0.47,1)" font-size="33.43" text-anchor="middle">A</text>
<text transform="translate(177.94,163.58) rotate(316.61) scale(0.47,1)" font-size="33.43" text-anchor="middle">L</text>
<text transform="translate(59.53,398.94) rotate(86.74) scale(0.47,1)" font-size="33.43" text-anchor="middle">6</text>
<text transform="translate(60.23,408.72) rotate(85.00) scale(0.47,1)" font-size="33.43" text-anchor="middle">.</text>
<text transform="translate(61.44,420.20) rotate(82.96) scale(0.47,1)" font-size="33.43" text-anchor="middle">O</text>
<text transform="translate(63.63,435.07) rotate(80.30) scale(0.47,1)" font-size="33.43" text-anchor="middle">C</text>
<text transform="translate(66.41,449.40) rotate(77.72) scale(0.47,1)" font-size="33.43" text-anchor="middle">C</text>
<text transform="translate(69.84,463.59) rotate(75.14) scale(0.47,1)" font-size="33.43" text-anchor="middle">U</text>
<text transform="translate(73.77,477.19) rotate(72.64) scale(0.47,1)" font-size="33.43" text-anchor="middle">P</text>
<text transform="translate(78.14,490.21) rotate(70.21) scale(0.47,1)" font-size="33.43" text-anchor="middle">A</text>
<text transform="translate(83.22,503.43) rotate(67.70) scale(0.47,1)" font-size="33.43" text-anchor="middle">N</text>
<text transform="translate(89.07,516.80) rotate(65.12) scale(0.47,1)" font-size="33.43" text-anchor="middle">C</text>
<text transform="translate(95.30,529.52) rotate(62.62) scale(0.47,1)" font-size="33.43" text-anchor="middle">Y</text>
<text transform="translate(568.17,125.05) rotate(395.94) scale(0.54,1)" font-size="29.07" text-anchor="middle">2</text>
<text transform="translate(575.70,130.69) rotate(397.65) scale(0.54,1)" font-size="29.07" text-anchor="middle">.</text>
<text transform="translate(583.73,137.09) rotate(399.51) scale(0.54,1)" font-size="29.07" text-anchor="middle">P</text>
<text transform="translate(593.18,145.21) rotate(401.77) scale(0.54,1)" font-size="29.07" text-anchor="middle">L</text>
<text transform="translate(602.31,153.69) rotate(404.04) scale(0.54,1)" font-size="29.07" text-anchor="middle">A</text>
<text transform="translate(611.99,163.47) rotate(406.54) scale(0.54,1)" font-size="29.07" text-anchor="middle">N</text>
<text transform="translate(621.52,173.98) rotate(409.11) scale(0.54,1)" font-size="29.07" text-anchor="middle">N</text>
<text transform="translate(628.39,182.20) rotate(411.06) scale(0.54,1)" font-size="29.07" text-anchor="middle">I</text>
<text transform="translate(634.98,190.64) rotate(413.00) scale(0.54,1)" font-size="29.07" text-anchor="middle">N</text>
<text transform="translate(643.51,202.52) rotate(415.66) scale(0.54,1)" font-size="29.07" text-anchor="middle">G</text>
<text transform="translate(654.98,220.60) rotate(419.55) scale(0.54,1)" font-size="29.07" text-anchor="middle">A</text>
<text transform="translate(661.69,232.61) rotate(422.05) scale(0.54,1)" font-size="29.07" text-anchor="middle">N</text>
<text transform="translate(668.06,245.30) rotate(424.63) scale(0.54,1)" font-size="29.07" text-anchor="middle">D</text>
<text transform="translate(551.32,153.62) rotate(396.57) scale(0.54,1)" font-size="29.07" text-anchor="middle">Z</text>
<text transform="translate(560.90,161.05) rotate(399.03) scale(0.54,1)" font-size="29.07" text-anchor="middle">O</text>
<text transform="translate(570.81,169.47) rotate(401.67) scale(0.54,1)" font-size="29.07" text-anchor="middle">N</text>
<text transform="translate(577.48,175.60) rotate(403.51) scale(0.54,1)" font-size="29.07" text-anchor="middle">I</text>
<text transform="translate(583.96,181.95) rotate(405.35) scale(0.54,1)" font-size="29.07" text-anchor="middle">N</text>
<text transform="translate(592.88,191.41) rotate(407.98) scale(0.54,1)" font-size="29.07" text-anchor="middle">G</text>
<text transform="translate(604.85,205.61) rotate(411.75) scale(0.54,1)" font-size="29.07" text-anchor="middle">R</text>
<text transform="translate(612.15,215.29) rotate(414.21) scale(0.54,1)" font-size="29.07" text-anchor="middle">E</text>
<text transform="translate(618.79,224.91) rotate(416.58) scale(0.54,1)" font-size="29.07" text-anchor="middle">V</text>
<text transform="translate(623.44,232.19) rotate(418.33) scale(0.54,1)" font-size="29.07" text-anchor="middle">I</text>
<text transform="translate(627.86,239.61) rotate(420.09) scale(0.54,1)" font-size="29.07" text-anchor="middle">E</text>
<text transform="translate(634.48,251.80) rotate(422.90) scale(0.54,1)" font-size="29.07" text-anchor="middle">W</text>
<text transform="translate(464.07,670.38) rotate(-15.63) scale(0.54,1)" font-size="29.07" text-anchor="middle">4</text>
<text transform="translate(472.24,667.97) rotate(-17.25) scale(0.54,1)" font-size="29.07" text-anchor="middle">.</text>
<text transform="translate(481.16,665.04) rotate(-19.03) scale(0.54,1)" font-size="29.07" text-anchor="middle">P</text>
<text transform="translate(492.83,660.75) rotate(-21.40) scale(0.54,1)" font-size="29.07" text-anchor="middle">E</text>
<text transform="translate(504.71,655.79) rotate(-23.85) scale(0.54,1)" font-size="29.07" text-anchor="middle">R</text>
<text transform="translate(517.54,649.76) rotate(-26.55) scale(0.54,1)" font-size="29.07" text-anchor="middle">M</text>
<text transform="translate(527.01,644.81) rotate(-28.58) scale(0.54,1)" font-size="29.07" text-anchor="middle">I</text>
<text transform="translate(534.80,640.42) rotate(-30.29) scale(0.54,1)" font-size="29.07" text-anchor="middle">T</text>
<text transform="translate(545.04,634.16) rotate(-32.57) scale(0.54,1)" font-size="29.07" text-anchor="middle">S</text>
<text transform="translate(560.53,623.57) rotate(-36.14) scale(0.54,1)" font-size="29.07" text-anchor="middle">A</text>
<text transform="translate(570.76,615.76) rotate(-38.59) scale(0.54,1)" font-size="29.07" text-anchor="middle">N</text>
<text transform="translate(580.97,607.23) rotate(-41.13) scale(0.54,1)" font-size="29.07" text-anchor="middle">D</text>
<text transform="translate(510.57,692.42) rotate(-22.24) scale(0.54,1)" font-size="29.07" text-anchor="middle">R</text>
<text transform="translate(524.25,686.47) rotate(-24.78) scale(0.54,1)" font-size="29.07" text-anchor="middle">E</text>
<text transform="translate(537.26,680.12) rotate(-27.24) scale(0.54,1)" font-size="29.07" text-anchor="middle">V</text>
<text transform="translate(547.33,674.72) rotate(-29.19) scale(0.54,1)" font-size="29.07" text-anchor="middle">I</text>
<text transform="translate(557.22,668.97) rotate(-31.13) scale(0.54,1)" font-size="29.07" text-anchor="middle">E</text>
<text transform="translate(571.26,660.01) rotate(-33.96) scale(0.54,1)" font-size="29.07" text-anchor="middle">W</text>
<text transform="translate(178.34,610.67) rotate(41.64) scale(0.49,1)" font-size="29.07" text-anchor="middle">5</text>
<text transform="translate(184.40,615.92) rotate(40.15) scale(0.49,1)" font-size="29.07" text-anchor="middle">.</text>
<text transform="translate(191.52,621.74) rotate(38.44) scale(0.49,1)" font-size="29.07" text-anchor="middle">C</text>
<text transform="translate(201.68,629.47) rotate(36.07) scale(0.49,1)" font-size="29.07" text-anchor="middle">O</text>
<text transform="translate(212.14,636.77) rotate(33.69) scale(0.49,1)" font-size="29.07" text-anchor="middle">N</text>
<text transform="translate(222.23,643.21) rotate(31.46) scale(0.49,1)" font-size="29.07" text-anchor="middle">S</text>
<text transform="translate(231.87,648.87) rotate(29.38) scale(0.49,1)" font-size="29.07" text-anchor="middle">T</text>
<text transform="translate(242.06,654.36) rotate(27.23) scale(0.49,1)" font-size="29.07" text-anchor="middle">R</text>
<text transform="translate(253.17,659.80) rotate(24.93) scale(0.49,1)" font-size="29.07" text-anchor="middle">U</text>
<text transform="translate(264.48,664.78) rotate(22.63) scale(0.49,1)" font-size="29.07" text-anchor="middle">C</text>
<text transform="translate(275.25,669.04) rotate(20.48) scale(0.49,1)" font-size="29.07" text-anchor="middle">T</text>
<text transform="translate(283.16,671.87) rotate(18.91) scale(0.49,1)" font-size="29.07" text-anchor="middle">I</text>
<text transform="translate(292.29,674.84) rotate(17.13) scale(0.49,1)" font-size="29.07" text-anchor="middle">O</text>
<text transform="translate(304.56,678.34) rotate(14.75) scale(0.49,1)" font-size="29.07" text-anchor="middle">N</text>
<text transform="translate(322.10,682.42) rotate(11.40) scale(0.49,1)" font-size="29.07" text-anchor="middle">A</text>
<text transform="translate(333.88,684.56) rotate(9.18) scale(0.49,1)" font-size="29.07" text-anchor="middle">N</text>
<text transform="translate(346.12,686.28) rotate(6.88) scale(0.49,1)" font-size="29.07" text-anchor="middle">D</text>
<text transform="translate(197.16,668.79) rotate(32.81) scale(0.54,1)" font-size="29.07" text-anchor="middle">I</text>
<text transform="translate(205.23,673.84) rotate(31.22) scale(0.54,1)" font-size="29.07" text-anchor="middle">N</text>
<text transform="translate(216.11,680.16) rotate(29.12) scale(0.54,1)" font-size="29.07" text-anchor="middle">S</text>
<text transform="translate(226.82,685.88) rotate(27.09) scale(0.54,1)" font-size="29.07" text-anchor="middle">P</text>
<text transform="translate(237.73,691.22) rotate(25.06) scale(0.54,1)" font-size="29.07" text-anchor="middle">E</text>
<text transform="translate(249.21,696.33) rotate(22.96) scale(0.54,1)" font-size="29.07" text-anchor="middle">C</text>
<text transform="translate(260.47,700.87) rotate(20.93) scale(0.54,1)" font-size="29.07" text-anchor="middle">T</text>
<text transform="translate(268.59,703.85) rotate(19.49) scale(0.54,1)" font-size="29.07" text-anchor="middle">I</text>
<text transform="translate(278.02,707.04) rotate(17.82) scale(0.54,1)" font-size="29.07" text-anchor="middle">O</text>
<text transform="translate(290.90,710.90) rotate(15.58) scale(0.54,1)" font-size="29.07" text-anchor="middle">N</text>
</g>
</g>
</svg>
</body></html>
